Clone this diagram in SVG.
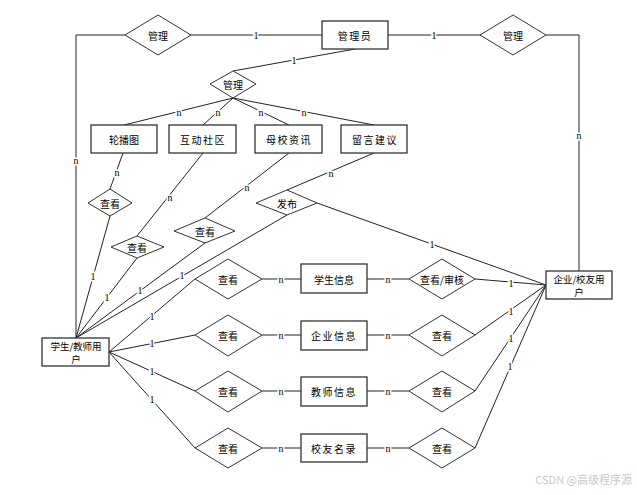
<svg xmlns="http://www.w3.org/2000/svg" width="637" height="495" viewBox="0 0 637 495">
<style>
.e{fill:#fff;stroke:#333;stroke-width:1.3}
.r{fill:#fff;stroke:#333;stroke-width:1}
.c{fill:none;stroke:#222;stroke-width:1}
.t{font-family:"Noto Sans CJK SC","Liberation Sans",sans-serif;font-size:10px;fill:#000;text-anchor:middle;dominant-baseline:central}
.t2{font-size:9.5px}
.s{letter-spacing:1.5px}
.l{font-family:"Liberation Serif",serif;font-size:10px;fill:#000;text-anchor:middle;dominant-baseline:central;stroke:#fff;stroke-width:3;paint-order:stroke}
</style>
<rect width="637" height="495" fill="#fff"/>
<g id="connectors">
<polyline class="c" points="125,35 76,35 76,338"/>
<line class="c" x1="191" y1="35" x2="322" y2="35"/>
<line class="c" x1="388" y1="35" x2="480" y2="35"/>
<polyline class="c" points="546,35 579,35 579,271"/>
<line class="c" x1="355" y1="49" x2="233" y2="71"/>
<line class="c" x1="233" y1="98" x2="124" y2="125"/>
<line class="c" x1="233" y1="98" x2="203" y2="125"/>
<line class="c" x1="233" y1="98" x2="289" y2="125"/>
<line class="c" x1="233" y1="98" x2="374" y2="125"/>
<line class="c" x1="123" y1="153" x2="110" y2="189"/>
<line class="c" x1="203" y1="153" x2="137" y2="236"/>
<line class="c" x1="289" y1="153" x2="205" y2="218"/>
<line class="c" x1="374" y1="153" x2="287" y2="190"/>
<line class="c" x1="110" y1="216" x2="76" y2="338"/>
<line class="c" x1="137" y1="258" x2="76" y2="338"/>
<line class="c" x1="205" y1="243" x2="76" y2="338"/>
<line class="c" x1="287" y1="215" x2="76" y2="338"/>
<line class="c" x1="317" y1="203" x2="546" y2="285"/>
<line class="c" x1="109" y1="352" x2="195" y2="279"/>
<line class="c" x1="109" y1="352" x2="195" y2="335"/>
<line class="c" x1="109" y1="352" x2="195" y2="391"/>
<line class="c" x1="109" y1="352" x2="195" y2="448"/>
<line class="c" x1="262" y1="279" x2="301" y2="279"/>
<line class="c" x1="262" y1="335" x2="301" y2="335"/>
<line class="c" x1="262" y1="391" x2="301" y2="391"/>
<line class="c" x1="262" y1="448" x2="301" y2="448"/>
<line class="c" x1="367" y1="279" x2="409" y2="279"/>
<line class="c" x1="367" y1="335" x2="409" y2="335"/>
<line class="c" x1="367" y1="391" x2="409" y2="391"/>
<line class="c" x1="367" y1="448" x2="409" y2="448"/>
<line class="c" x1="475" y1="279" x2="546" y2="285"/>
<line class="c" x1="475" y1="335" x2="546" y2="285"/>
<line class="c" x1="475" y1="391" x2="546" y2="285"/>
<line class="c" x1="475" y1="448" x2="546" y2="285"/>
<text class="l" x="76" y="160">n</text>
<text class="l" x="256" y="35">1</text>
<text class="l" x="434" y="35">1</text>
<text class="l" x="579" y="135">n</text>
<text class="l" x="294" y="60">1</text>
<text class="l" x="179" y="112">n</text>
<text class="l" x="218" y="112">n</text>
<text class="l" x="261" y="112">n</text>
<text class="l" x="304" y="112">n</text>
<text class="l" x="117" y="172">n</text>
<text class="l" x="170" y="197">n</text>
<text class="l" x="247" y="187">n</text>
<text class="l" x="331" y="173">n</text>
<text class="l" x="93" y="276">1</text>
<text class="l" x="107" y="297">1</text>
<text class="l" x="140" y="290">1</text>
<text class="l" x="182" y="275">1</text>
<text class="l" x="432" y="244">1</text>
<text class="l" x="152" y="316">1</text>
<text class="l" x="152" y="343">1</text>
<text class="l" x="152" y="371">1</text>
<text class="l" x="152" y="399">1</text>
<text class="l" x="281" y="279">n</text>
<text class="l" x="281" y="335">n</text>
<text class="l" x="281" y="391">n</text>
<text class="l" x="281" y="448">n</text>
<text class="l" x="388" y="279">n</text>
<text class="l" x="388" y="335">n</text>
<text class="l" x="388" y="391">n</text>
<text class="l" x="388" y="448">n</text>
<text class="l" x="511" y="283">1</text>
<text class="l" x="511" y="311">1</text>
<text class="l" x="511" y="338">1</text>
<text class="l" x="510" y="366">1</text>
</g>
<g id="admin"><rect class="e" x="322" y="21" width="66" height="28"/><text class="t s" x="355" y="35">管理员</text></g>
<g id="manage-left"><polygon class="r" points="125,35 158,15 191,35 158,55"/><text class="t" x="158" y="35">管理</text></g>
<g id="manage-right"><polygon class="r" points="480,35 513,15 546,35 513,55"/><text class="t" x="513" y="35">管理</text></g>
<g id="manage-mid"><polygon class="r" points="210,84 233,71 256,84 233,98"/><text class="t" x="233" y="84">管理</text></g>
<g id="carousel"><rect class="e" x="91" y="125" width="66" height="28"/><text class="t" x="124" y="139">轮播图</text></g>
<g id="community"><rect class="e" x="169" y="125" width="67" height="28"/><text class="t s" x="203" y="139">互动社区</text></g>
<g id="news"><rect class="e" x="255" y="125" width="67" height="28"/><text class="t s" x="289" y="139">母校资讯</text></g>
<g id="message"><rect class="e" x="341" y="125" width="66" height="28"/><text class="t s" x="375" y="139">留言建议</text></g>
<g id="view1"><polygon class="r" points="88,203 110,189 132,203 110,216"/><text class="t" x="110" y="203">查看</text></g>
<g id="view2"><polygon class="r" points="111,247 137,236 164,247 137,258"/><text class="t" x="137" y="247">查看</text></g>
<g id="view3"><polygon class="r" points="174,231 205,218 235,231 205,243"/><text class="t" x="205" y="231">查看</text></g>
<g id="publish"><polygon class="r" points="256,203 287,190 317,203 287,215"/><text class="t" x="287" y="203">发布</text></g>
<g id="student"><rect class="e" x="42" y="338" width="67" height="28"/><text class="t t2" x="76" y="345.5">学生/教师用</text><text class="t t2" x="76" y="358.5">户</text></g>
<g id="enterprise"><rect class="e" x="546" y="271" width="66" height="28"/><text class="t t2" x="579" y="278.5">企业/校友用</text><text class="t t2" x="579" y="291.5">户</text></g>
<g id="lv1"><polygon class="r" points="195,279 228,259 262,279 228,299"/><text class="t" x="228" y="279">查看</text></g>
<g id="lv2"><polygon class="r" points="195,335 228,315 262,335 228,356"/><text class="t" x="228" y="335">查看</text></g>
<g id="lv3"><polygon class="r" points="195,391 228,371 262,391 228,412"/><text class="t" x="228" y="391">查看</text></g>
<g id="lv4"><polygon class="r" points="195,448 228,428 262,448 228,468"/><text class="t" x="228" y="448">查看</text></g>
<g id="studentinfo"><rect class="e" x="301" y="264" width="66" height="29"/><text class="t" x="334" y="279">学生信息</text></g>
<g id="companyinfo"><rect class="e" x="301" y="321" width="66" height="29"/><text class="t s" x="334" y="335">企业信息</text></g>
<g id="teacherinfo"><rect class="e" x="301" y="377" width="66" height="29"/><text class="t s" x="334" y="391">教师信息</text></g>
<g id="alumni"><rect class="e" x="301" y="434" width="66" height="28"/><text class="t s" x="334" y="448">校友名录</text></g>
<g id="rv1"><polygon class="r" points="409,279 442,259 475,279 442,299"/><text class="t" x="442" y="279">查看/审核</text></g>
<g id="rv2"><polygon class="r" points="409,335 442,315 475,335 442,356"/><text class="t" x="442" y="335">查看</text></g>
<g id="rv3"><polygon class="r" points="409,391 442,371 475,391 442,412"/><text class="t" x="442" y="391">查看</text></g>
<g id="rv4"><polygon class="r" points="409,448 442,428 475,448 442,468"/><text class="t" x="442" y="448">查看</text></g>
<text x="632" y="484" font-family="'Noto Sans CJK SC','Liberation Sans',sans-serif" font-size="11" fill="#c8c8c8" text-anchor="end">CSDN @高级程序源</text>
</svg>
